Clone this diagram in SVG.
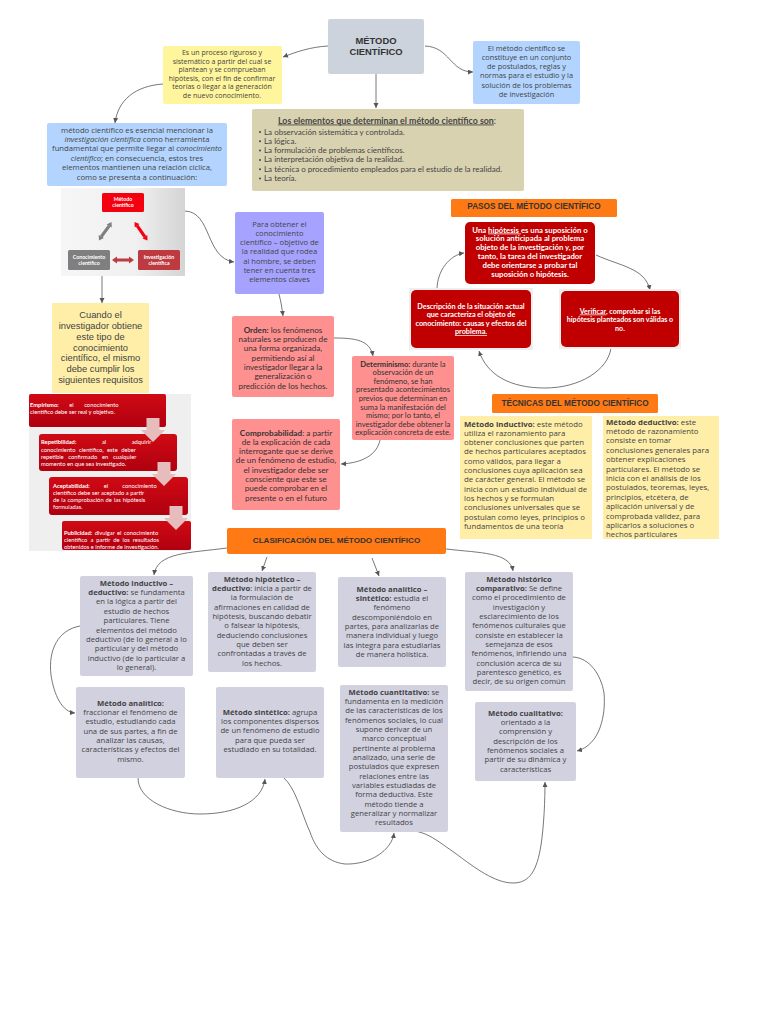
<svg xmlns="http://www.w3.org/2000/svg" width="768" height="1024" viewBox="0 0 768 1024">
<style>
text{fill:#444;text-anchor:middle}
.os{font-family:"Open Sans","Noto Sans",sans-serif}
.la{font-family:Lato,"Noto Sans",sans-serif}
.ar{font-family:"Liberation Sans",Arial,sans-serif}
.l{text-anchor:start}
.b{font-weight:700}
.i{font-style:italic}
.u{text-decoration:underline}
.w{fill:#fff}
.g{font-size:7.7px}
.dk{fill:#333}
.conn path{fill:none;stroke:#555;stroke-width:.8;marker-end:url(#a)}
.grey{fill:#d2d1e0}
.red{fill:#c00000}
.org{fill:#ff7a14}
.pink{fill:#ff9090}
.yl{fill:#ffeea8}
</style>
<defs>
<marker id="a" markerUnits="userSpaceOnUse" markerWidth="6" markerHeight="6" refX="5" refY="2.5" orient="auto"><path d="M0 0L5 2.5L0 5Z" fill="#555"/></marker>
<linearGradient id="gb" x1="0" x2="1" y1="0" y2="0"><stop offset="0" stop-color="#f6f6f6"/><stop offset=".6" stop-color="#f0f0f0"/><stop offset="1" stop-color="#d4d4d4"/></linearGradient>
<linearGradient id="rg" x1="0" x2="0" y1="0" y2="1"><stop offset="0" stop-color="#d00a14"/><stop offset="1" stop-color="#b00010"/></linearGradient>
</defs>
<rect width="768" height="1024" fill="#fff"/>
<g class="conn">
<path d="M328 46C310 47 296 52 283 57"/>
<path d="M163 84C135 86 118 100 115 123"/>
<path d="M376 74V108"/>
<path d="M425 46C450 47 450 72 473 72"/>
<path d="M185 211C212 212 205 258 234 262"/>
<path d="M102 276V303"/>
<path d="M279 294C281 302 282 308 283 316"/>
<path d="M334 338C355 338 370 340 373 356"/>
<path d="M380 440C377 455 362 463 341 464"/>
<path d="M596 255C620 266 645 268 650 290"/>
<path d="M437 290C437 270 450 255 464 253"/>
<path d="M611 348C608 370 580 388 545 388C510 388 487 375 479 351"/>
<path d="M227 548C190 553 157 552 154 575"/>
<path d="M267 557L262 571"/>
<path d="M372 558L379 576"/>
<path d="M446 549C480 553 510 552 513 571"/>
<path d="M80 626C58 630 48 650 51 675C54 695 62 712 75 713"/>
<path d="M138 778C138 800 170 814 200 814C235 814 262 802 265 779"/>
<path d="M283 777C296 788 302 815 310 832C316 850 327 862 345 864C370 865 392 850 394 833"/>
<path d="M407 831C425 829 440 843 455 853C475 868 495 883 513 883C530 883 537 870 541 845C544 825 545 800 545 782"/>
<path d="M573 657C590 658 601 675 604 693C606 715 600 745 577 751"/>
</g>
<g id="titulo"><rect x="328" y="19" width="96" height="55" rx="2" fill="#cdd3dc"/><text class="ar b dk" font-size="9.4"><tspan x="376" y="44">MÉTODO</tspan><tspan x="376" dy="11">CIENTÍFICO</tspan></text></g>
<g id="proceso"><rect x="163" y="46" width="119" height="58" rx="2" fill="#fff59d"/><text class="os" font-size="7"><tspan x="222" y="55">Es un proceso riguroso y</tspan><tspan x="222" dy="8.6">sistemático a partir del cual se</tspan><tspan x="222" dy="8.6">plantean y se comprueban</tspan><tspan x="222" dy="8.6">hipótesis, con el fin de confirmar</tspan><tspan x="222" dy="8.6">teorías o llegar a la generación</tspan><tspan x="222" dy="8.6">de nuevo conocimiento.</tspan></text></g>
<g id="postulados"><rect x="473" y="41" width="107" height="63" rx="2" fill="#b3d4ff"/><text class="os" font-size="7.4"><tspan x="526.5" y="50.5">El método científico se</tspan><tspan x="526.5" dy="9.3">constituye en un conjunto</tspan><tspan x="526.5" dy="9.3">de postulados, reglas y</tspan><tspan x="526.5" dy="9.3">normas para el estudio y la</tspan><tspan x="526.5" dy="9.3">solución de los problemas</tspan><tspan x="526.5" dy="9.3">de investigación</tspan></text></g>
<g id="investigacion"><rect x="47" y="123" width="180" height="63" rx="2" fill="#b3d4ff"/><text class="os" font-size="7.7"><tspan x="137" y="132.5">método científico es esencial mencionar la</tspan><tspan x="137" dy="9.4"><tspan class="i">investigación científica</tspan> como herramienta</tspan><tspan x="137" dy="9.4">fundamental que permite llegar al <tspan class="i">conocimiento</tspan></tspan><tspan x="137" dy="9.4"><tspan class="i">científico</tspan>; en consecuencia, estos tres</tspan><tspan x="137" dy="9.4">elementos mantienen una relación cíclica,</tspan><tspan x="137" dy="9.4">como se presenta a continuación:</tspan></text></g>
<g id="elementos"><rect x="252" y="109" width="272" height="82" rx="2" fill="#d9d2b0"/><text class="la" font-size="8.8"><tspan x="387" y="123.5" class="b u">Los elementos que determinan el método científico son</tspan><tspan>:</tspan></text><text class="la l" font-size="8"><tspan x="264" y="134.5">La observación sistemática y controlada.</tspan><tspan x="264" dy="9.3">La lógica.</tspan><tspan x="264" dy="9.3">La formulación de problemas científicos.</tspan><tspan x="264" dy="9.3">La interpretación objetiva de la realidad.</tspan><tspan x="264" dy="9.3">La técnica o procedimiento empleados para el estudio de la realidad.</tspan><tspan x="264" dy="9.3">La teoría.</tspan></text><g fill="#444"><circle cx="260" cy="132" r="1"/><circle cx="260" cy="141.3" r="1"/><circle cx="260" cy="150.6" r="1"/><circle cx="260" cy="159.9" r="1"/><circle cx="260" cy="169.2" r="1"/><circle cx="260" cy="178.5" r="1"/></g></g>
<g id="ciclo"><rect x="61" y="188" width="124" height="88" fill="url(#gb)"/><rect x="102" y="193" width="42" height="19" rx="1.5" fill="#f5000f"/><rect x="68" y="250" width="42" height="20" rx="1.5" fill="#7f7f7f"/><rect x="138" y="250" width="42" height="20" rx="1.5" fill="#bc3a40"/><text class="la b w" font-size="5.2"><tspan x="123" y="201">Método</tspan><tspan x="123" dy="6.3">científico</tspan></text><text class="la b w" font-size="5.2"><tspan x="89" y="259">Conocimiento</tspan><tspan x="89" dy="6.3">científico</tspan></text><text class="la b w" font-size="5.2"><tspan x="159" y="259">Investigación</tspan><tspan x="159" dy="6.3">científica</tspan></text>
<path d="M109.2 225.9L101.3 236.6" stroke="#7f7f7f" stroke-width="3.2"/><path d="M111.5 222L111.8 227.4L106.6 224.4ZM99 240.5L103.9 238.1L98.7 235.1Z" fill="#7f7f7f"/>
<path d="M137.1 225.7L144.9 236.8" stroke="#f5000f" stroke-width="3.2"/><path d="M134.5 222L139.5 224L134.7 227.4ZM147.5 240.5L147.3 235.1L142.5 238.5Z" fill="#f5000f"/>
<path d="M112 260L117 256.5V258.5H129V256.5L134 260L129 263.5V261.5H117V263.5Z" fill="#bc3a40"/></g>
<g id="cuando"><rect x="52" y="303" width="97" height="90" fill="#ffeea8"/><text class="ar" font-size="9.35"><tspan x="100.5" y="318">Cuando el</tspan><tspan x="100.5" dy="10.85">investigador obtiene</tspan><tspan x="100.5" dy="10.85">este tipo de</tspan><tspan x="100.5" dy="10.85">conocimiento</tspan><tspan x="100.5" dy="10.85">científico, el mismo</tspan><tspan x="100.5" dy="10.85">debe cumplir los</tspan><tspan x="100.5" dy="10.85">siguientes requisitos</tspan></text></g>
<g id="requisitos"><rect x="29" y="394" width="162" height="157" fill="#efefef"/><rect x="29" y="394" width="137" height="33" rx="2" fill="url(#rg)"/><rect x="39" y="434" width="138" height="37" rx="3" fill="url(#rg)"/><rect x="49" y="477" width="139" height="38" rx="3" fill="url(#rg)"/><rect x="62" y="521" width="129" height="29" rx="2" fill="url(#rg)"/>
<g fill="#e6bcbc"><path d="M146.5 418H159.5V430H165L153 442L141 430H146.5Z"/><path d="M157.5 462H170.5V474H176L164 486L152 474H157.5Z"/><path d="M169.5 506H182.5V518H188L176 530L164 518H169.5Z"/></g>
<g class="la w" font-size="5.8"><text class="l w" y="407" x="30" word-spacing="9"><tspan class="b">Empirismo:</tspan> el conocimiento</text><text class="l w" x="30" y="414">científico debe ser real y objetivo.</text>
<text class="l w" x="41" y="444" word-spacing="24"><tspan class="b">Repetibilidad:</tspan> al adquirir</text><text class="l w" x="41" y="451.5" word-spacing="2">conocimiento científico, este deber</text><text class="l w" x="41" y="458.5" word-spacing="3.3">repetible confirmado en cualquier</text><text class="l w" x="41" y="465.5">momento en que sea investigado.</text>
<text class="l w" x="53" y="488" word-spacing="12.5"><tspan class="b">Aceptabilidad:</tspan> el conocimiento</text><text class="l w" x="53" y="495">científico debe ser aceptado a partir</text><text class="l w" x="53" y="502" word-spacing=".5">de la comprobación de las hipótesis</text><text class="l w" x="53" y="509">formuladas.</text>
<text class="l w" x="64" y="535" word-spacing=".8"><tspan class="b">Publicidad:</tspan> divulgar el conocimiento</text><text class="l w" x="64" y="542" word-spacing="1.6">científico a partir de los resultados</text><text class="l w" x="64" y="549">obtenidos e informe de investigación.</text></g></g>
<g id="obtener"><rect x="235" y="212" width="89" height="82" rx="2" fill="#a5a3ff"/><text class="os" font-size="7.6"><tspan x="279.5" y="226.5">Para obtener el</tspan><tspan x="279.5" dy="9.3">conocimiento</tspan><tspan x="279.5" dy="9.3">científico – objetivo de</tspan><tspan x="279.5" dy="9.3">la realidad que rodea</tspan><tspan x="279.5" dy="9.3">al hombre, se deben</tspan><tspan x="279.5" dy="9.3">tener en cuenta tres</tspan><tspan x="279.5" dy="9.3">elementos claves</tspan></text></g>
<g id="orden"><rect x="232" y="316" width="102" height="81" rx="2" class="pink"/><text class="la dk" font-size="8.1"><tspan x="283" y="332.5"><tspan class="b">Orden:</tspan> los fenómenos</tspan><tspan x="283" dy="9.35">naturales se producen de</tspan><tspan x="283" dy="9.35">una forma organizada,</tspan><tspan x="283" dy="9.35">permitiendo así al</tspan><tspan x="283" dy="9.35">investigador llegar a la</tspan><tspan x="283" dy="9.35">generalización o</tspan><tspan x="283" dy="9.35">predicción de los hechos.</tspan></text></g>
<g id="determinismo"><rect x="352" y="356" width="102" height="84" rx="2" class="pink"/><text class="la dk" font-size="7.6"><tspan x="403" y="366.5"><tspan class="b">Determinismo:</tspan> durante la</tspan><tspan x="403" dy="8.6">observación de un</tspan><tspan x="403" dy="8.6">fenómeno, se han</tspan><tspan x="403" dy="8.6">presentado acontecimientos</tspan><tspan x="403" dy="8.6">previos que determinan en</tspan><tspan x="403" dy="8.6">suma la manifestación del</tspan><tspan x="403" dy="8.6">mismo; por lo tanto, el</tspan><tspan x="403" dy="8.6">investigador debe obtener la</tspan><tspan x="403" dy="8.6">explicación concreta de este.</tspan></text></g>
<g id="comprobabilidad"><rect x="232" y="419" width="108" height="91" rx="2" class="pink"/><text class="la dk" font-size="8.2"><tspan x="286" y="435.5"><tspan class="b">Comprobabilidad</tspan>: a partir</tspan><tspan x="286" dy="9.33">de la explicación de cada</tspan><tspan x="286" dy="9.33">interrogante que se derive</tspan><tspan x="286" dy="9.33">de un fenómeno de estudio,</tspan><tspan x="286" dy="9.33">el investigador debe ser</tspan><tspan x="286" dy="9.33">consciente que este se</tspan><tspan x="286" dy="9.33">puede comprobar en el</tspan><tspan x="286" dy="9.33">presente o en el futuro</tspan></text></g>
<g id="pasos"><rect x="451" y="199" width="166" height="18" rx="1.5" class="org"/><text class="ar b dk" font-size="8.2" x="534" y="209">PASOS DEL MÉTODO CIENTÍFICO</text></g>
<g id="hipotesis"><rect x="465" y="222" width="130" height="62" rx="5" class="red"/><text class="la b w" font-size="7.75"><tspan x="530" y="232.5">Una <tspan class="u">hipótesis </tspan>es una suposición o</tspan><tspan x="530" dy="8.9">solución anticipada al problema</tspan><tspan x="530" dy="8.9">objeto de la investigación y, por</tspan><tspan x="530" dy="8.9">tanto, la tarea del investigador</tspan><tspan x="530" dy="8.9">debe orientarse a probar tal</tspan><tspan x="530" dy="8.9">suposición o hipótesis.</tspan></text></g>
<g id="descripcion"><rect x="409" y="288" width="124" height="62" fill="#efefef"/><rect x="411" y="290" width="120" height="58" rx="5" class="red"/><text class="la b w" font-size="7.25"><tspan x="471" y="308.5">Descripción de la situación actual</tspan><tspan x="471" dy="8.55">que caracteriza el objeto de</tspan><tspan x="471" dy="8.55">conocimiento: causas y efectos del</tspan><tspan x="471" dy="8.55" class="u">problema.</tspan></text></g>
<g id="verificar"><rect x="559" y="289" width="122" height="60" fill="#efefef"/><rect x="561" y="291" width="118" height="56" rx="5" class="red"/><text class="la b w" font-size="7.1"><tspan x="620" y="313.5"><tspan class="u">Verificar</tspan>, comprobar si las</tspan><tspan x="620" dy="8.5">hipótesis planteados son válidas o</tspan><tspan x="620" dy="8.5">no.</tspan></text></g>
<g id="tecnicas"><rect x="492" y="394" width="166" height="19" rx="1.5" class="org"/><text class="ar b dk" font-size="8.2" x="575" y="406">TÉCNICAS DEL MÉTODO CIENTÍFICO</text></g>
<g id="inductivo"><rect x="460" y="416" width="132" height="123" class="yl"/><text class="os l" font-size="7.8"><tspan x="464" y="426.5" class="b">Método inductivo:</tspan><tspan> este método</tspan><tspan x="464" dy="9.33">utiliza el razonamiento para</tspan><tspan x="464" dy="9.33">obtener conclusiones que parten</tspan><tspan x="464" dy="9.33">de hechos particulares aceptados</tspan><tspan x="464" dy="9.33">como válidos, para llegar a</tspan><tspan x="464" dy="9.33">conclusiones cuya aplicación sea</tspan><tspan x="464" dy="9.33">de carácter general. El método se</tspan><tspan x="464" dy="9.33">inicia con un estudio individual de</tspan><tspan x="464" dy="9.33">los hechos y se formulan</tspan><tspan x="464" dy="9.33">conclusiones universales que se</tspan><tspan x="464" dy="9.33">postulan como leyes, principios o</tspan><tspan x="464" dy="9.33">fundamentos de una teoría</tspan></text></g>
<g id="deductivo"><rect x="603" y="416" width="116" height="123" class="yl"/><text class="os l" font-size="7.8"><tspan x="606" y="424.5" class="b">Método deductivo:</tspan><tspan> este</tspan><tspan x="606" dy="9.4">método de razonamiento</tspan><tspan x="606" dy="9.4">consiste en tomar</tspan><tspan x="606" dy="9.4">conclusiones generales para</tspan><tspan x="606" dy="9.4">obtener explicaciones</tspan><tspan x="606" dy="9.4">particulares. El método se</tspan><tspan x="606" dy="9.4">inicia con el análisis de los</tspan><tspan x="606" dy="9.4">postulados, teoremas, leyes,</tspan><tspan x="606" dy="9.4">principios, etcétera, de</tspan><tspan x="606" dy="9.4">aplicación universal y de</tspan><tspan x="606" dy="9.4">comprobada validez, para</tspan><tspan x="606" dy="9.4">aplicarlos a soluciones o</tspan><tspan x="606" dy="9.4">hechos particulares</tspan></text></g>
<g id="clasificacion"><rect x="227" y="528" width="219" height="26" rx="2" class="org"/><text class="ar b dk" font-size="8.1" x="336.5" y="543">CLASIFICACIÓN DEL MÉTODO CIENTÍFICO</text></g>
<g id="ind-ded"><rect x="80" y="576" width="113" height="100" rx="2" class="grey"/><text class="os g"><tspan x="136.5" y="585.5" class="b">Método inductivo –</tspan><tspan x="136.5" dy="9.4"><tspan class="b">deductivo:</tspan> se fundamenta</tspan><tspan x="136.5" dy="9.4">en la lógica a partir del</tspan><tspan x="136.5" dy="9.4">estudio de hechos</tspan><tspan x="136.5" dy="9.4">particulares. Tiene</tspan><tspan x="136.5" dy="9.4">elementos del método</tspan><tspan x="136.5" dy="9.4">deductivo (de lo general a lo</tspan><tspan x="136.5" dy="9.4">particular y del método</tspan><tspan x="136.5" dy="9.4">inductivo (de lo particular a</tspan><tspan x="136.5" dy="9.4">lo general).</tspan></text></g>
<g id="hipotetico"><rect x="208" y="572" width="108" height="100" rx="2" class="grey"/><text class="os g"><tspan x="262" y="581.5" class="b">Método hipótetico –</tspan><tspan x="262" dy="9.37"><tspan class="b">deductivo</tspan>: inicia a partir de</tspan><tspan x="262" dy="9.37">la formulación de</tspan><tspan x="262" dy="9.37">afirmaciones en calidad de</tspan><tspan x="262" dy="9.37">hipótesis, buscando debatir</tspan><tspan x="262" dy="9.37">o falsear la hipótesis,</tspan><tspan x="262" dy="9.37">deduciendo conclusiones</tspan><tspan x="262" dy="9.37">que deben ser</tspan><tspan x="262" dy="9.37">confrontadas a través de</tspan><tspan x="262" dy="9.37">los hechos.</tspan></text></g>
<g id="ana-sin"><rect x="338" y="577" width="108" height="90" rx="2" class="grey"/><text class="os g"><tspan x="392" y="591.5" class="b">Método analítico –</tspan><tspan x="392" dy="9.35"><tspan class="b">sintético:</tspan> estudia el</tspan><tspan x="392" dy="9.35">fenómeno</tspan><tspan x="392" dy="9.35">descomponiéndolo en</tspan><tspan x="392" dy="9.35">partes, para analizarlas de</tspan><tspan x="392" dy="9.35">manera individual y luego</tspan><tspan x="392" dy="9.35">las integra para estudiarlas</tspan><tspan x="392" dy="9.35">de manera holística.</tspan></text></g>
<g id="historico"><rect x="465" y="572" width="108" height="119" rx="2" class="grey"/><text class="os g"><tspan x="519" y="581.5" class="b">Método histórico</tspan><tspan x="519" dy="9.35"><tspan class="b">comparativo:</tspan> Se define</tspan><tspan x="519" dy="9.35">como el procedimiento de</tspan><tspan x="519" dy="9.35">investigación y</tspan><tspan x="519" dy="9.35">esclarecimiento de los</tspan><tspan x="519" dy="9.35">fenómenos culturales que</tspan><tspan x="519" dy="9.35">consiste en establecer la</tspan><tspan x="519" dy="9.35">semejanza de esos</tspan><tspan x="519" dy="9.35">fenómenos, infiriendo una</tspan><tspan x="519" dy="9.35">conclusión acerca de su</tspan><tspan x="519" dy="9.35">parentesco genético, es</tspan><tspan x="519" dy="9.35">decir, de su origen común</tspan></text></g>
<g id="analitico"><rect x="76" y="687" width="109" height="91" rx="2" class="grey"/><text class="os g"><tspan x="130.5" y="705.5" class="b">Método analítico:</tspan><tspan x="130.5" dy="9.35">fraccionar el fenómeno de</tspan><tspan x="130.5" dy="9.35">estudio, estudiando cada</tspan><tspan x="130.5" dy="9.35">una de sus partes, a fin de</tspan><tspan x="130.5" dy="9.35">analizar las causas,</tspan><tspan x="130.5" dy="9.35">características y efectos del</tspan><tspan x="130.5" dy="9.35">mismo.</tspan></text></g>
<g id="sintetico"><rect x="216" y="687" width="108" height="91" rx="2" class="grey"/><text class="os g"><tspan x="270" y="714.5"><tspan class="b">Método sintético:</tspan> agrupa</tspan><tspan x="270" dy="9.35">los componentes dispersos</tspan><tspan x="270" dy="9.35">de un fenómeno de estudio</tspan><tspan x="270" dy="9.35">para que pueda ser</tspan><tspan x="270" dy="9.35">estudiado en su totalidad.</tspan></text></g>
<g id="cuantitativo"><rect x="340" y="685" width="108" height="147" rx="2" class="grey"/><text class="os g"><tspan x="394" y="694.5"><tspan class="b">Método cuantitativo:</tspan> se</tspan><tspan x="394" dy="9.35">fundamenta en la medición</tspan><tspan x="394" dy="9.35">de las características de los</tspan><tspan x="394" dy="9.35">fenómenos sociales, lo cual</tspan><tspan x="394" dy="9.35">supone derivar de un</tspan><tspan x="394" dy="9.35">marco conceptual</tspan><tspan x="394" dy="9.35">pertinente al problema</tspan><tspan x="394" dy="9.35">analizado, una serie de</tspan><tspan x="394" dy="9.35">postulados que expresen</tspan><tspan x="394" dy="9.35">relaciones entre las</tspan><tspan x="394" dy="9.35">variables estudiadas de</tspan><tspan x="394" dy="9.35">forma deductiva. Este</tspan><tspan x="394" dy="9.35">método tiende a</tspan><tspan x="394" dy="9.35">generalizar y normalizar</tspan><tspan x="394" dy="9.35">resultados</tspan></text></g>
<g id="cualitativo"><rect x="475" y="702" width="101" height="79" rx="2" class="grey"/><text class="os g"><tspan x="525.5" y="715.5" class="b">Método cualitativo:</tspan><tspan x="525.5" dy="9.35">orientado a la</tspan><tspan x="525.5" dy="9.35">comprensión y</tspan><tspan x="525.5" dy="9.35">descripción de los</tspan><tspan x="525.5" dy="9.35">fenómenos sociales a</tspan><tspan x="525.5" dy="9.35">partir de su dinámica y</tspan><tspan x="525.5" dy="9.35">características</tspan></text></g>
</svg>
